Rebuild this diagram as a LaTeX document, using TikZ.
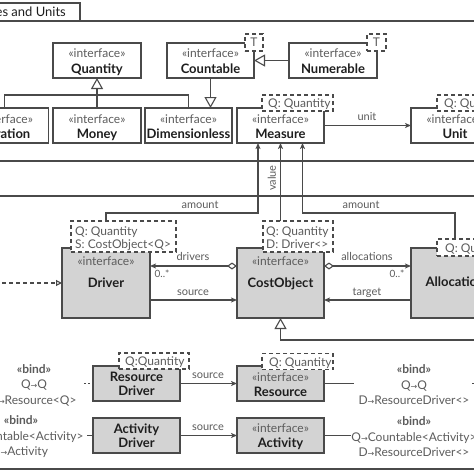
\documentclass[tikz,border=0pt]{standalone}
\usepackage{fontspec}
\setmainfont{Lato}
\newfontfamily\dejavu{DejaVu Sans}
\usetikzlibrary{arrows.meta,calc}
\definecolor{lc}{HTML}{4a4a4a}
\definecolor{tx}{HTML}{5c5c5c}
\definecolor{nmc}{HTML}{1e1e1e}
\definecolor{gf}{HTML}{d3d3d3}
\newcommand{\myarr}{{\dejavu\fontsize{8}{8}\selectfont →}}
\begin{document}
\begin{tikzpicture}[x=1pt,y=-1pt,
  box/.style={draw=lc, line width=1.2pt, fill=white, inner sep=0pt, outer sep=0pt},
  gbox/.style={box, fill=gf},
  tpl/.style={draw=lc, line width=1.2pt, dash pattern=on 4pt off 3pt, fill=white, inner sep=0pt, outer sep=0pt},
  stereo/.style={text=tx, font=\fontsize{12}{14}\selectfont, inner sep=0pt, text height=8.5pt, text depth=0pt},
  nmtext/.style={text=nmc, font=\bfseries\fontsize{13}{14}\selectfont, inner sep=0pt, text height=9.4pt, text depth=0pt},
  tpltext/.style={text=tx, font=\fontsize{12}{14}\selectfont, inner sep=0pt, text height=8.5pt, text depth=0pt, anchor=west},
  lbl/.style={text=tx, font=\fontsize{11}{13}\selectfont, inner sep=0pt, text height=7.5pt, text depth=0pt},
  mult/.style={text=tx, font=\fontsize{10}{12}\selectfont, inner sep=0pt, text height=7pt, text depth=0pt},
  bindtext/.style={text=tx, font=\fontsize{12}{15.5}\selectfont, align=center, inner sep=0pt},
  frameline/.style={draw=lc, line width=1.5pt},
  conn/.style={draw=lc, line width=1.1pt},
  assoc/.style={conn, -{Stealth[length=6pt,width=5pt,inset=1.5pt]}},
  gen/.style={conn, -{Triangle[open,length=11pt,width=12pt,fill=white]}},
  agg/.style={conn, {Diamond[open,length=10pt,width=7pt,fill=white]}-{Stealth[length=6pt,width=5pt,inset=1.5pt]}},
  real/.style={conn, dash pattern=on 4pt off 3pt, -{Triangle[open,length=6pt,width=6pt,fill=white]}},
]
\path[use as bounding box, clip] (0,0) rectangle (474,474);
\fill[white] (0,0) rectangle (474,474);

% package frames
\draw[frameline] (-10,3) -| (80,21);
\draw[frameline] (-10,21) -- (484,21);
\draw[frameline] (-10,161) -- (484,161);
\draw[frameline] (-10,196) -- (484,196);
\draw[frameline] (-10,469) -- (484,469);
\node[text=nmc, font=\fontsize{13}{15}\selectfont, inner sep=0pt, anchor=east] (pkgname) at (66,12.5) {Quantities and Units};

% top row
\node[box, minimum width=88pt, minimum height=35pt] (quantity) at (97,60.5) {};
\node[stereo] (quantityst) at (97,53) {«interface»};
\node[nmtext] (quantitynm) at (97,69) {Quantity};

\node[box, minimum width=87pt, minimum height=35pt] (countable) at (210.5,60.5) {};
\node[stereo] (countablest) at (210.5,53) {«interface»};
\node[nmtext] (countablenm) at (210.5,69) {Countable};
\node[tpl, minimum width=18pt, minimum height=17pt] (countabletpl) at (254,42.5) {};
\node[stereo] (countablet) at (254,42.5) {T};

\node[box, minimum width=88pt, minimum height=35pt] (numerable) at (333,60.5) {};
\node[stereo] (numerablest) at (333,53) {«interface»};
\node[nmtext] (numerablenm) at (333,69) {Numerable};
\node[tpl, minimum width=19pt, minimum height=17pt] (numerabletpl) at (376.5,42.5) {};
\node[stereo] (numerablet) at (376.5,42.5) {T};

% second row
\node[box, minimum width=88pt, minimum height=35pt] (duration) at (4.5,125.5) {};
\node[stereo] (durationst) at (4.5,119) {«interface»};
\node[nmtext] (durationnm) at (4.5,134) {Duration};

\node[box, minimum width=88pt, minimum height=35pt] (money) at (97,125.5) {};
\node[stereo] (moneyst) at (97,119) {«interface»};
\node[nmtext] (moneynm) at (97,134) {Money};

\node[box, minimum width=87pt, minimum height=35pt] (dimensionless) at (188.5,125.5) {};
\node[stereo] (dimensionlessst) at (188.5,119) {«interface»};
\node[nmtext] (dimensionlessnm) at (188.5,134) {Dimensionless};

\node[box, minimum width=87pt, minimum height=35pt] (measure) at (280.5,125.5) {};
\node[tpl, minimum width=71pt, minimum height=16pt] (measuretpl) at (297.5,103) {};
\node[tpltext] (measureq) at (268,103.5) {Q: Quantity};
\node[stereo] (measurest) at (280.5,119) {«interface»};
\node[nmtext] (measurenm) at (280.5,134) {Measure};

\node[box, minimum width=88pt, minimum height=35pt] (unit) at (455,125.5) {};
\node[tpl, minimum width=71pt, minimum height=16pt] (unittpl) at (472.5,103) {};
\node[tpltext] (unitq) at (444,103.5) {Q: Quantity};
\node[stereo] (unitst) at (455,119) {«interface»};
\node[nmtext] (unitnm) at (455,134) {Unit};

% generalizations top
\coordinate (qj) at (97,95);
\draw[conn] (duration.north) |- (qj) -| (dimensionless.north);
\draw[gen] (money.north) -- (quantity.south);
\draw[gen] (countable.south) -- (countable.south |- dimensionless.north);
\draw[gen] (numerable.west) -- (countable.east);
\draw[assoc] (measure.east) -- (unit.west);
\node[lbl] (unitlbl) at (367,117) {unit};

% middle row
\node[gbox, minimum width=88pt, minimum height=70pt] (driver) at (106,283) {};
\node[tpl, minimum width=105pt, minimum height=31pt] (drivertpl) at (123.5,236.5) {};
\node[tpltext] (driverq) at (75,231) {Q: Quantity};
\node[tpltext] (drivers) at (75,244) {S: CostObject<Q>};
\node[stereo] (driverst) at (106,261) {«interface»};
\node[nmtext] (drivernm) at (106,283) {Driver};

\node[gbox, minimum width=87pt, minimum height=70pt] (costobject) at (280.5,283) {};
\node[tpl, minimum width=70pt, minimum height=31pt] (costtpl) at (298,236.5) {};
\node[tpltext] (costq) at (266,231) {Q: Quantity};
\node[tpltext] (costd) at (266,244) {D: Driver<>};
\node[stereo] (costst) at (280.5,261) {«interface»};
\node[nmtext] (costnm) at (280.5,283) {CostObject};

\node[gbox, minimum width=88pt, minimum height=70pt] (allocation) at (455,283) {};
\node[tpl, minimum width=71pt, minimum height=17pt] (alloctpl) at (472.5,247.5) {};
\node[tpltext] (allocq) at (445,248) {Q: Quantity};
\node[nmtext] (allocnm) at (455,282) {Allocation};

% connectors to Measure
\draw[assoc] (drivertpl.north -| driver.north) -- ++(0,-8) -| ([xshift=-22.5pt]measure.south);
\node[lbl] (amount1) at (200,205) {amount};
\draw[assoc] (costtpl.north -| measure.south) -- (measure.south);
\node[lbl, rotate=90] (valuelbl) at (272,178) {value};
\draw[assoc] (alloctpl.north -| allocation.north) -- ++(0,-26) -| ([xshift=22pt]measure.south);
\node[lbl] (amount2) at (361,205) {amount};

% associations
\draw[agg] ([yshift=17pt]costobject.west) -- ([yshift=17pt]driver.east);
\node[lbl] (driverslbl) at (193,257) {drivers};
\node[mult] (mult1) at (162,274) {0..*};
\draw[assoc] ([yshift=-17pt]driver.east) -- ([yshift=-17pt]costobject.west);
\node[lbl] (source1) at (193,292) {source};
\draw[agg] ([yshift=17pt]costobject.east) -- ([yshift=17pt]allocation.west);
\node[lbl] (allocslbl) at (367,257) {allocations};
\node[mult] (mult2) at (397,274) {0..*};
\draw[assoc] ([yshift=-17pt]allocation.west) -- ([yshift=-17pt]costobject.east);
\node[lbl] (targetlbl) at (367,292) {target};

\coordinate (realstart) at (-5,283);
\draw[real] (realstart) -- (driver.west);
\coordinate (genright) at (484,340);
\draw[gen] (genright) -| (costobject.south);

% bottom rows
\node[gbox, minimum width=87pt, minimum height=35pt, text=nmc, font=\bfseries\fontsize{13}{14}\selectfont, align=center] (resdriver) at (136.5,383.5) {Resource\\Driver};
\node[tpl, minimum width=70pt, minimum height=16pt] (resdrivertpl) at (154,361) {};
\node[tpltext] (resdriverq) at (125,361.5) {Q:Quantity};

\node[gbox, minimum width=87pt, minimum height=35pt] (resource) at (280.5,383.5) {};
\node[tpl, minimum width=71pt, minimum height=16pt] (resourcetpl) at (297.5,361.5) {};
\node[tpltext] (resourceq) at (269,362) {Q: Quantity};
\node[stereo] (resourcest) at (280.5,377.5) {«interface»};
\node[nmtext] (resourcenm) at (280.5,391.5) {Resource};

\node[gbox, minimum width=87pt, minimum height=35pt, text=nmc, font=\bfseries\fontsize{13}{14}\selectfont, align=center] (actdriver) at (136.5,435.5) {Activity\\Driver};
\node[gbox, minimum width=87pt, minimum height=35pt] (activity) at (280.5,435.5) {};
\node[stereo] (activityst) at (280.5,428) {«interface»};
\node[nmtext] (activitynm) at (280.5,443) {Activity};

\draw[assoc] (resdriver.east) -- (resource.west);
\node[lbl] (source2) at (208,375) {source};
\draw[assoc] (actdriver.east) -- (activity.west);
\node[lbl] (source3) at (208,427) {source};

% bindings
\node[bindtext] (bindl1) at (34,385) {\textbf{«bind»}\\Q\myarr Q\\S\myarr Resource<Q>};
\node[bindtext] (bindl2) at (21,437) {\textbf{«bind»}\\Q\myarr Countable<Activity>\\S\myarr Activity};
\node[bindtext] (bindr1) at (414,385) {\textbf{«bind»}\\Q\myarr Q\\D\myarr ResourceDriver<>};
\node[bindtext] (bindr2) at (414,437) {\textbf{«bind»}\\Q\myarr Countable<Activity>\\D\myarr ResourceDriver<>};

\coordinate (bl1) at (84,383.5);
\draw[conn, dash pattern=on 2pt off 2pt] (bl1) -- (resdriver.west);
\coordinate (bl2) at (87,435.5);
\draw[conn] (bl2) -- (actdriver.west);
\coordinate (br1) at (354,383.5);
\draw[conn] (resource.east) -- (br1);
\coordinate (br1b) at (472,383.5);
\coordinate (br1c) at (484,383.5);
\draw[conn] (br1b) -- (br1c);
\coordinate (br2) at (351,435.5);
\draw[conn] (activity.east) -- (br2);
\end{tikzpicture}
\end{document}
